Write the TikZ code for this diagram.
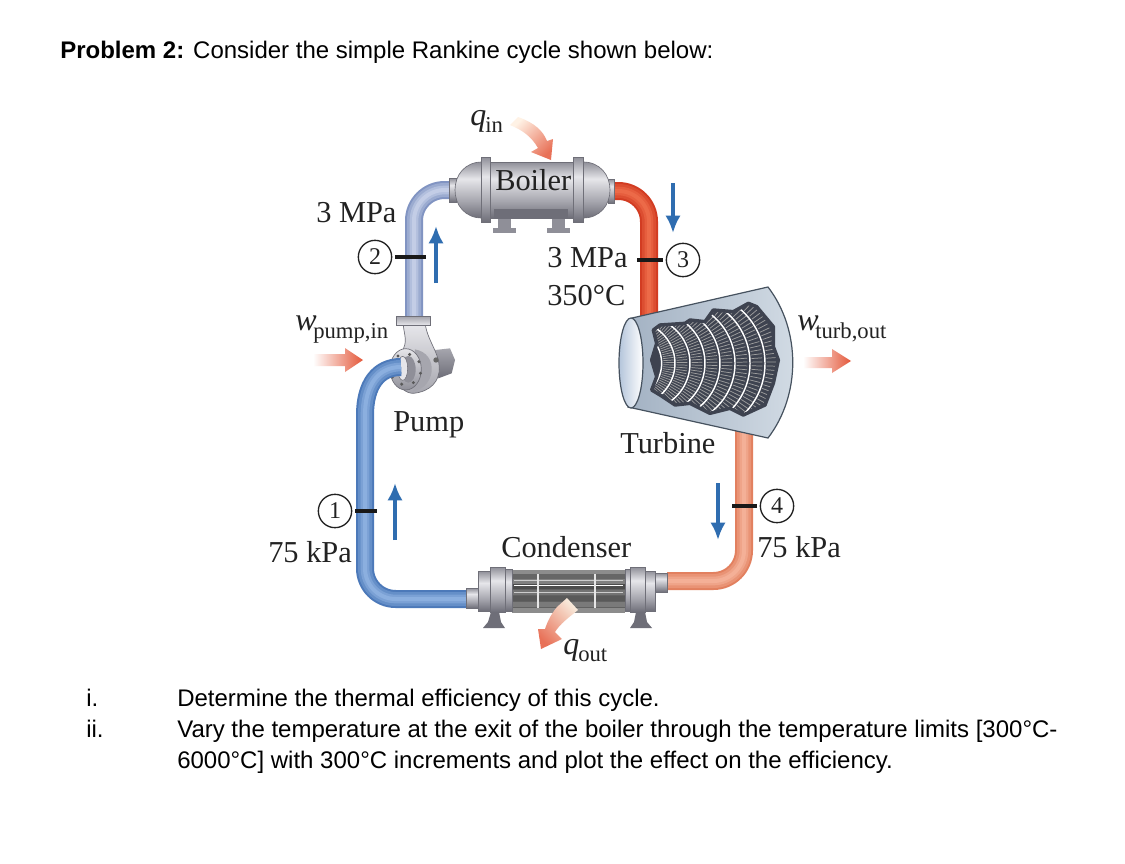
\documentclass[tikz,border=0pt]{standalone}
\usepackage{fontspec}
\setmainfont{Liberation Serif}
\newfontfamily\bodyf{Liberation Sans}
\definecolor{edgeg}{HTML}{6F6F78}
\definecolor{mA}{HTML}{6E6E78}
\definecolor{mB}{HTML}{A6A6AE}
\definecolor{mC}{HTML}{E6E6EA}
\definecolor{mD}{HTML}{8F8F98}
\definecolor{inkt}{HTML}{222222}
\definecolor{flowb}{HTML}{2F6DB0}
\definecolor{heat}{HTML}{E4583A}
\definecolor{plE}{HTML}{8194C2}\definecolor{plC}{HTML}{C3CDE6}
\definecolor{rdE}{HTML}{D23C22}\definecolor{rdC}{HTML}{EC6A48}
\definecolor{orE}{HTML}{E2805F}\definecolor{orC}{HTML}{F4B097}
\definecolor{blE}{HTML}{4C79B9}\definecolor{blC}{HTML}{8BAFDF}
\definecolor{tuL}{HTML}{A3B2C3}\definecolor{tuR}{HTML}{D3DCE5}
\definecolor{tuEdge}{HTML}{46525F}\definecolor{blade}{HTML}{3E4350}
\definecolor{tuEllipse}{HTML}{B4C5DB}
\pgfdeclareverticalshading{metal}{100bp}{color(0bp)=(mA);color(25bp)=(mA);color(40bp)=(mB);color(60bp)=(mC);color(75bp)=(mD);color(100bp)=(mD)}
\newcommand{\pipedraw}[3]{%
 \draw[line width=13.5pt,color=#2,line cap=butt,rounded corners=23pt] #1;
 \draw[line width=10.5pt,color=#2!60!#3,line cap=butt,rounded corners=23pt] #1;
 \draw[line width=6.5pt,color=#2!25!#3,line cap=butt,rounded corners=23pt] #1;
 \draw[line width=3pt,color=#3,line cap=butt,rounded corners=23pt] #1;}
\usetikzlibrary{arrows.meta}
\tikzset{
 metalpart/.style={shade,shading=metal,draw=edgeg,line width=.5pt},
 lab/.style={anchor=base west,inner sep=0pt,text=inkt,font=\fontsize{22.8}{24}\selectfont},
 sublab/.style={anchor=base west,inner sep=0pt,text=inkt,font=\fontsize{17}{19}\selectfont},
 qlab/.style={anchor=base west,inner sep=0pt,text=inkt,font=\fontsize{24}{26}\selectfont\itshape},
 body/.style={anchor=base west,inner sep=0pt,text=black,font=\bodyf\fontsize{18}{20}\selectfont},
 statec/.style={circle,draw=inkt,line width=1pt,minimum size=25pt,inner sep=0pt,text=inkt,font=\fontsize{18}{20}\selectfont},
 statebar/.style={line width=3pt,color=black!90},
 flowarrow/.style={color=flowb,line width=3pt,-{Latex[length=13pt,width=11.5pt]}},
}
\begin{document}
\begin{tikzpicture}[x=.75pt,y=-.75pt]
\useasboundingbox[fill=white] (0,0) rectangle (1125,864);
% anchors for the pipes
\coordinate (boilerIn) at (449,190);
\coordinate (boilerOut) at (613,191);
\coordinate (pumpOut) at (414,322);
\coordinate (pumpIn) at (401,367);
\coordinate (turbIn) at (649,318);
\coordinate (turbOut) at (744,430);
\coordinate (condIn) at (667,581);
\coordinate (condOut) at (470,599);
% pipes
\pipedraw{(pumpOut) -- (414,190) -- (boilerIn)}{plE}{plC}
\pipedraw{(boilerOut) -- (649,191) -- (turbIn)}{rdE}{rdC}
\pipedraw{(turbOut) -- (744,581) -- (condIn)}{orE}{orC}
% boiler
\path[metalpart] (449,178) rectangle (456,202);
\path[metalpart] (608,179) rectangle (614,203);
\path[metalpart] (482,162) .. controls (465,162) and (455,175) .. (455,190) .. controls (455,205) and (465,218) .. (482,218) -- cycle;
\path[metalpart] (583,162) .. controls (600,162) and (610,175) .. (610,190) .. controls (610,205) and (600,218) .. (583,218) -- cycle;
\path[metalpart] (490,162) rectangle (573,218);
\path[metalpart] (481,157) rectangle (490,222);
\path[metalpart] (573,157) rectangle (583,222);
\fill[color=mA] (494,209) rectangle (568,219);
\fill[color=mD] (498,219) rectangle (511,229);
\fill[color=mD] (552,219) rectangle (565,229);
\fill[color=mD] (493,228) rectangle (516,233);
\fill[color=mD] (547,228) rectangle (570,233);
% pump
\begin{scope}[shift={(360,310)},scale=1/3]
 \path[shade,top color=mB,bottom color=mA] (225,120) -- (270,115) -- (285,150) -- (275,190) -- (235,205) -- cycle;
 \path[shade,top color=mC,bottom color=mB,draw=edgeg,line width=.5pt]
  (130,45) .. controls (132,75) and (145,95) .. (125,125)
  -- (110,200) .. controls (115,235) and (140,250) .. (160,250)
  .. controls (210,245) and (240,215) .. (238,170)
  .. controls (235,125) and (205,95) .. (196,45) -- cycle;
 \fill[color=mB] (165,118) .. controls (200,125) and (218,150) .. (215,185) .. controls (210,220) and (185,240) .. (160,243) -- cycle;
 \fill[color=black!60] (228,150) circle[radius=8];
 \path[shade,top color=mC,bottom color=mD,draw=edgeg,line width=.5pt] (137,178) ellipse[x radius=47,y radius=62];
 \path[fill=mD] (145,178) ellipse[x radius=22,y radius=40];
 \foreach \a in {-75,-30,15,60,105,150,195,240}
  \fill[color=black!65] (137,178) ++(\a:{46}) circle[radius=5];
 \path[fill=mC,draw=edgeg,line width=.4pt] (128,175) ellipse[x radius=15,y radius=36];
 \path[shade,top color=mB,bottom color=mC,draw=edgeg,line width=.5pt] (110,20) rectangle (212,45);
\end{scope}
\pipedraw{(pumpIn) [sharp corners] .. controls (378,367) and (365,385) .. (365,415) [rounded corners=23pt] -- (365,599) -- (condOut)}{blE}{blC}
% turbine
\path[shade,left color=tuL,right color=tuR,draw=tuEdge,line width=.9pt]
 (632,318) -- (768,287) .. controls (801,330) and (801,395) .. (768,438) -- (628,407) -- cycle;
\begin{scope}[shift={(610,280)},scale=1/3]
 \def\bladeshape{(130,150) -- (150,135) -- (225,130) -- (240,120) -- (285,125) -- (310,90) -- (370,95) -- (415,70) -- (440,80) -- (490,140) -- (490,200) -- (505,240) -- (490,310) -- (465,375) -- (400,405) -- (360,385) -- (300,400) -- (240,370) -- (195,375) -- (150,345) -- (125,330) -- (140,290) -- (125,240) -- (140,190) -- cycle}
 \fill[color=blade] \bladeshape;
 \begin{scope}
  \clip \bladeshape;
  \foreach \xx/\rr in {155/110,195/125,240/140,285/155,330/170,375/185,420/200,465/215}{
   \foreach \a in {-64,-61,...,64}
    \draw[color=black!38,line width=.55pt] ({\xx-\rr},250) ++(\a:{\rr+5}) -- ++(\a:32);
   \draw[color=white,line width=1.1pt] ({\xx-\rr},250) ++(-64:\rr) arc[start angle=-64,end angle=64,radius=\rr];
  }
 \end{scope}
 \draw[color=blade,line width=2.6pt,line join=round] \bladeshape;
\end{scope}
\path[shade,left color=tuEllipse,right color=white,draw=tuEdge,line width=.9pt] (631,363) ellipse[x radius=12,y radius=45];
% condenser
\path[metalpart] (466,588) rectangle (478,608);
\path[metalpart] (655,573) rectangle (667,592);
\fill[color=black!62] (512,570) rectangle (625,612);
\foreach \yy/\cc in {570/45,574/60,579/50,584/70,590/55,596/65,602/52,608/45}
 \fill[color=black!\cc] (512,\yy) rectangle (625,{\yy+4.5});
\draw[color=white,line width=1pt] (514,585.5) -- (623,585.5);
\draw[color=black!20,line width=.6pt] (514,580) -- (623,580) (514,592) -- (623,592);
\draw[color=white!90!black,line width=2.2pt] (538,574) -- (538,608);
\draw[color=white!90!black,line width=2.2pt] (595,574) -- (595,608);
\path[metalpart] (478,571) rectangle (490,611);
\path[metalpart] (490,567) rectangle (505,612);
\path[metalpart] (505,569) rectangle (512,611);
\path[metalpart] (625,569) rectangle (630,611);
\path[metalpart] (630,567) rectangle (645,612);
\path[metalpart] (645,571) rectangle (655,611);
\fill[color=mA] (491,612) -- (499,612) -- (501,622) -- (505,628) -- (483,628) -- (488,622) -- cycle;
\fill[color=mA] (636,612) -- (645,612) -- (647,622) -- (652,628) -- (630,628) -- (634,622) -- cycle;
% heat and work arrows
\path[shade,top color=orange!10!white,bottom color=heat!85,shading angle=45] (518,117) .. controls (535,123) and (543,131) .. (547,141) -- (553,139) -- (551,160) -- (531,152) -- (538,148) .. controls (531,136) and (522,130) .. (510,125) -- cycle;
\path[shade,left color=white,right color=heat] (313,354) -- (345,354) -- (345,348) -- (363,360) -- (345,372) -- (345,366) -- (313,366) -- cycle;
\path[shade,left color=white,right color=heat] (803,357) -- (832,357) -- (832,349) -- (851,361) -- (832,373) -- (832,368) -- (803,368) -- cycle;
\path[shade,top color=black!20!orange!15!white,bottom color=heat!85,shading angle=-45] (567,598) -- (578,610) .. controls (568,618) and (560,624) .. (555,632) -- (562,639) -- (541,649) -- (538,629) -- (545,629) .. controls (548,620) and (552,613) .. (557,607) -- cycle;
% flow arrows
\coordinate (fA) at (436,283); \coordinate (fAe) at (436,226);
\coordinate (fB) at (673,183); \coordinate (fBe) at (673,233);
\coordinate (fC) at (395,540); \coordinate (fCe) at (395,483);
\coordinate (fD) at (718,483); \coordinate (fDe) at (718,540);
\draw[flowarrow] (fA) -- (fAe);
\draw[flowarrow] (fB) -- (fBe);
\draw[flowarrow] (fC) -- (fCe);
\draw[flowarrow] (fD) -- (fDe);
% state markers
\node[statec] (s2) at (375,257) {2};
\node[statec] (s3) at (683,260) {3};
\node[statec] (s1) at (335,511) {1};
\node[statec] (s4) at (777,506) {4};
\coordinate (b2) at (426,257);\coordinate (b3) at (637,260);\coordinate (b1) at (377,511);\coordinate (b4) at (732,506);
\draw[statebar] ([xshift=2]s2.east) -- (b2);
\draw[statebar] (b3) -- ([xshift=-2]s3.west);
\draw[statebar] ([xshift=2]s1.east) -- (b1);
\draw[statebar] (b4) -- ([xshift=-2]s4.west);
% labels
\node[lab] (boilerL) at (495,190) {Boiler};
\node[lab] (pumpL) at (393,431) {Pump};
\node[lab] (turbL) at (620,453) {Turbine};
\node[lab] (condL) at (501,557) {Condenser};
\node[lab] (p2) at (316,222) {3 MPa};
\node[lab] (p3) at (547,267) {3 MPa};
\node[lab] (t3) at (547,305) {350°C};
\node[lab] (p1) at (268,562) {75 kPa};
\node[lab] (p4) at (757,557) {75 kPa};
\node[qlab] (qi) at (470,125) {q};
\node[sublab] (qis) at (485,132) {in};
\node[qlab] (qo) at (563,654) {q};
\node[sublab] (qos) at (578,661) {out};
\node[qlab] (wp) at (295,330) {w};
\node[sublab] (wps) at (313,338) {pump,in};
\node[qlab] (wt) at (797,330) {w};
\node[sublab] (wts) at (815,338) {turb,out};
% problem text
\node[body] (title) at (60,58) {\bfseries Problem 2: \mdseries Consider the simple Rankine cycle shown below:};
\node[body] (li) at (86,706) {i.};
\node[body] (lii) at (86,737) {ii.};
\node[body] (l1) at (177,706) {Determine the thermal efficiency of this cycle.};
\node[body] (l2) at (177,737) {Vary the temperature at the exit of the boiler through the temperature limits [300°C-};
\node[body] (l3) at (177,768) {6000°C] with 300°C increments and plot the effect on the efficiency.};
\end{tikzpicture}
\end{document}
